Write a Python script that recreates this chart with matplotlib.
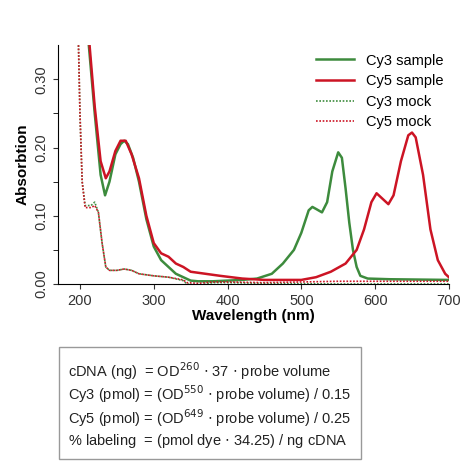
import numpy as np
import matplotlib
matplotlib.use("Agg")
import matplotlib.pyplot as plt

GREEN = "#3d8b3d"
RED = "#cc1424"

cy3_x = [212, 220, 228, 234, 240, 248, 255, 260, 265, 272, 280, 290, 300, 310, 320, 330, 340, 350,
         360, 380, 400, 420, 440, 460, 475, 490, 500, 510, 515, 520, 528, 535, 542, 550, 555, 560,
         565, 570, 575, 580, 590, 620, 700]
cy3_y = [0.35, 0.25, 0.16, 0.13, 0.15, 0.19, 0.205, 0.21, 0.205, 0.185, 0.15, 0.095, 0.055, 0.035,
         0.025, 0.015, 0.01, 0.005, 0.004, 0.004, 0.005, 0.006, 0.008, 0.015, 0.03, 0.05, 0.075,
         0.108, 0.113, 0.11, 0.105, 0.12, 0.165, 0.193, 0.185, 0.14, 0.09, 0.05, 0.025, 0.012,
         0.008, 0.007, 0.006]
cy5_x = [213, 220, 228, 235, 240, 248, 255, 262, 270, 280, 290, 300, 310, 320, 330, 340, 350, 370,
         390, 420, 450, 480, 500, 520, 540, 560, 575, 585, 595, 602, 610, 618, 625, 635, 645, 650,
         655, 665, 675, 685, 695, 700]
cy5_y = [0.35, 0.26, 0.18, 0.155, 0.165, 0.195, 0.21, 0.21, 0.19, 0.155, 0.1, 0.06, 0.045, 0.04,
         0.03, 0.025, 0.018, 0.015, 0.012, 0.008, 0.006, 0.006, 0.006, 0.01, 0.018, 0.03, 0.05,
         0.08, 0.12, 0.133, 0.125, 0.117, 0.13, 0.18, 0.218, 0.222, 0.215, 0.16, 0.08, 0.035,
         0.015, 0.01]
mock_x = [198, 200, 203, 207, 215, 220, 225, 230, 235, 240, 250, 260, 270, 280, 300, 320, 340,
          345, 360, 380, 400, 450, 550, 700]
cy3_mock_y = [0.35, 0.25, 0.15, 0.115, 0.115, 0.12, 0.105, 0.06, 0.025, 0.02, 0.02, 0.022, 0.02,
              0.015, 0.012, 0.01, 0.005, 0.0, -0.002, 0.002, 0.002, 0.001, 0.0, 0.0]
cy5_mock_y = [0.35, 0.25, 0.15, 0.112, 0.112, 0.115, 0.105, 0.06, 0.025, 0.02, 0.02, 0.022, 0.02,
              0.015, 0.012, 0.01, 0.006, 0.002, 0.001, 0.003, 0.003, 0.002, 0.004, 0.004]

plt.rcParams["font.family"] = ["Liberation Sans", "DejaVu Sans"]
fig = plt.figure(figsize=(4.74, 4.71), dpi=100)
ax = fig.add_axes([0.122, 0.397, 0.825, 0.507])
ax.plot(cy3_x, cy3_y, color=GREEN, lw=1.8, label="Cy3 sample")
ax.plot(cy5_x, cy5_y, color=RED, lw=1.8, label="Cy5 sample")
ax.plot(mock_x, cy3_mock_y, color=GREEN, lw=1.2, ls=(0, (1, 1)), label="Cy3 mock")
ax.plot(mock_x, cy5_mock_y, color=RED, lw=1.2, ls=(0, (1, 1)), label="Cy5 mock")
ax.set_xlim(170, 700)
ax.set_ylim(0, 0.35)
ax.set_xticks([200, 300, 400, 500, 600, 700])
ax.set_yticks([0, 0.1, 0.2, 0.3])
ax.set_yticks([0.05, 0.15, 0.25], minor=True)
ax.set_yticklabels(["0.00", "0.10", "0.20", "0.30"], rotation=90, va="center")
ax.tick_params(labelsize=10.5, colors="#333333")
ax.tick_params(which="minor", length=3.5)
for s in ["top", "right"]:
    ax.spines[s].set_visible(False)
ax.set_xlabel("Wavelength (nm)", fontsize=11, fontweight="bold", labelpad=1)
ax.set_ylabel("Absorbtion", fontsize=11, fontweight="bold", labelpad=3)
ax.legend(loc="upper right", frameon=False, fontsize=10.5, handlelength=2.6,
          bbox_to_anchor=(1.02, 1.02), labelspacing=0.45)

lines = ["cDNA (ng)  = OD$^{260}$ $\\cdot$ 37 $\\cdot$ probe volume",
         "Cy3 (pmol) = (OD$^{550}$ $\\cdot$ probe volume) / 0.15",
         "Cy5 (pmol) = (OD$^{649}$ $\\cdot$ probe volume) / 0.25",
         "% labeling  = (pmol dye $\\cdot$ 34.25) / ng cDNA"]
fig.patches.append(plt.Rectangle((59 / 474, 1 - 459 / 471), 302 / 474, 112 / 471,
                                 transform=fig.transFigure, fill=False,
                                 edgecolor="#999999", lw=1))
for i, t in enumerate(lines):
    fig.text(68 / 474, 1 - (371 + i * 23.5) / 471, t, fontsize=10.5, va="center",
             color="#222222")

fig.savefig("out.png", dpi=100)
